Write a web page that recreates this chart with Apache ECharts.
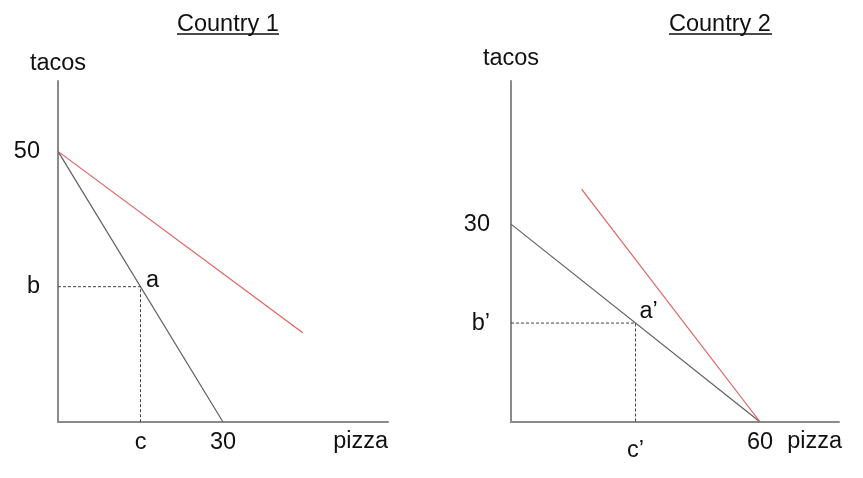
<!DOCTYPE html>
<html>
<head>
<meta charset="utf-8">
<script src="https://cdn.jsdelivr.net/npm/echarts@6/dist/echarts.min.js"></script>
<style>
  html, body { margin: 0; padding: 0; background: #fff; }
  #chart { width: 863px; height: 478px; }
</style>
</head>
<body>
<div id="chart"></div>
<script>
// Country 1: production possibilities (pizza, tacos)
const ppf1 = [[0, 50], [30, 0]]
const trade1 = [[0, 50], [44.5, 16.5]]
const point1 = [15, 25]
const yTicks1 = { 25: 'b', 50: '50' }
const xTicks1 = { 15: 'c', 30: '30' }

// Country 2
const ppf2 = [[0, 30], [60, 0]]
const trade2 = [[17, 35.3], [60, 0]]
const point2 = [30, 15]
const yTicks2 = { 15: 'b’', 30: '30' }
const xTicks2 = { 30: 'c’', 60: '60' }

const FONT = '"Liberation Sans", Arial, sans-serif'
const FS = 23.5
const TXT = '#111'
const axisColor = '#8a8a8a'

const chart = echarts.init(document.getElementById('chart'))

function xAxisFor(idx, max, ticks, nameGap, lowTick) {
  return {
    type: 'value', gridIndex: idx, min: 0, max,
    name: 'pizza', nameLocation: 'end', nameGap,
    nameTextStyle: { fontFamily: FONT, fontSize: FS, color: TXT, align: 'right', verticalAlign: 'top', padding: [8, 0, 0, 0] },
    axisLine: { show: true, lineStyle: { color: axisColor, width: 2 } },
    axisTick: { show: false },
    splitLine: { show: false },
    axisLabel: {
      customValues: Object.keys(ticks).map(Number),
      formatter: v => (lowTick != null && v === lowTick) ? '{low|' + ticks[v] + '}' : ticks[v],
      margin: 9, fontFamily: FONT, fontSize: FS, color: TXT,
      rich: { low: { fontFamily: FONT, fontSize: FS, color: TXT, padding: [8, 0, 0, 0] } },
    },
  }
}

function yAxisFor(idx, max, ticks, nameGap, margin) {
  return {
    type: 'value', gridIndex: idx, min: 0, max,
    name: 'tacos', nameLocation: 'end', nameGap,
    nameTextStyle: { fontFamily: FONT, fontSize: FS, color: TXT },
    axisLine: { show: true, lineStyle: { color: axisColor, width: 2 } },
    axisTick: { show: false },
    splitLine: { show: false },
    axisLabel: {
      customValues: Object.keys(ticks).map(Number),
      formatter: v => ticks[v],
      margin, fontFamily: FONT, fontSize: FS, color: TXT,
    },
  }
}

function line(idx, data, color, width, type) {
  return {
    type: 'line', xAxisIndex: idx, yAxisIndex: idx, data,
    symbol: 'none', silent: true, animation: false,
    lineStyle: { color, width, type: type || 'solid' },
  }
}

function dashed(idx, p) {
  return line(idx, [[0, p[1]], p, [p[0], 0]], '#444', 1, [3, 2])
}

function pointLabel(idx, p, text, offset) {
  return {
    type: 'scatter', xAxisIndex: idx, yAxisIndex: idx, data: [p],
    symbolSize: 1, silent: true, animation: false,
    itemStyle: { opacity: 0 },
    label: {
      show: true, formatter: text, position: 'inside', offset,
      fontFamily: FONT, fontSize: FS, color: TXT, textBorderWidth: 0, opacity: 1,
    },
  }
}

const titleStyle = { fontFamily: FONT, fontSize: FS, fontWeight: 'normal', color: TXT }

chart.setOption({
  animation: false,
  title: [
    { text: 'Country 1', left: 177, top: 13, padding: 0, textStyle: titleStyle },
    { text: 'Country 2', left: 669, top: 13, padding: 0, textStyle: titleStyle },
  ],
  graphic: [
    { type: 'line', shape: { x1: 177, y1: 34, x2: 279, y2: 34 }, style: { stroke: TXT, lineWidth: 1.3 } },
    { type: 'line', shape: { x1: 669, y1: 34, x2: 772, y2: 34 }, style: { stroke: TXT, lineWidth: 1.3 } },
  ],
  grid: [
    { left: 58, top: 81, width: 330, height: 341 },
    { left: 511, top: 81, width: 328, height: 341 },
  ],
  xAxis: [
    xAxisFor(0, 60, xTicks1, 0, null),
    xAxisFor(1, 79, xTicks2, 3, 30),
  ],
  yAxis: [
    yAxisFor(0, 63, yTicks1, 5, 18),
    yAxisFor(1, 51.7, yTicks2, 10, 21),
  ],
  series: [
    line(0, ppf1, '#5f5f5f', 1.2),
    line(0, trade1, '#e06060', 1.2),
    dashed(0, point1),
    pointLabel(0, point1, 'a', [12, -6]),
    line(1, ppf2, '#5f5f5f', 1.2),
    line(1, trade2, '#e06060', 1.2),
    dashed(1, point2),
    pointLabel(1, point2, 'a’', [13, -12]),
  ],
})
</script>
</body>
</html>
